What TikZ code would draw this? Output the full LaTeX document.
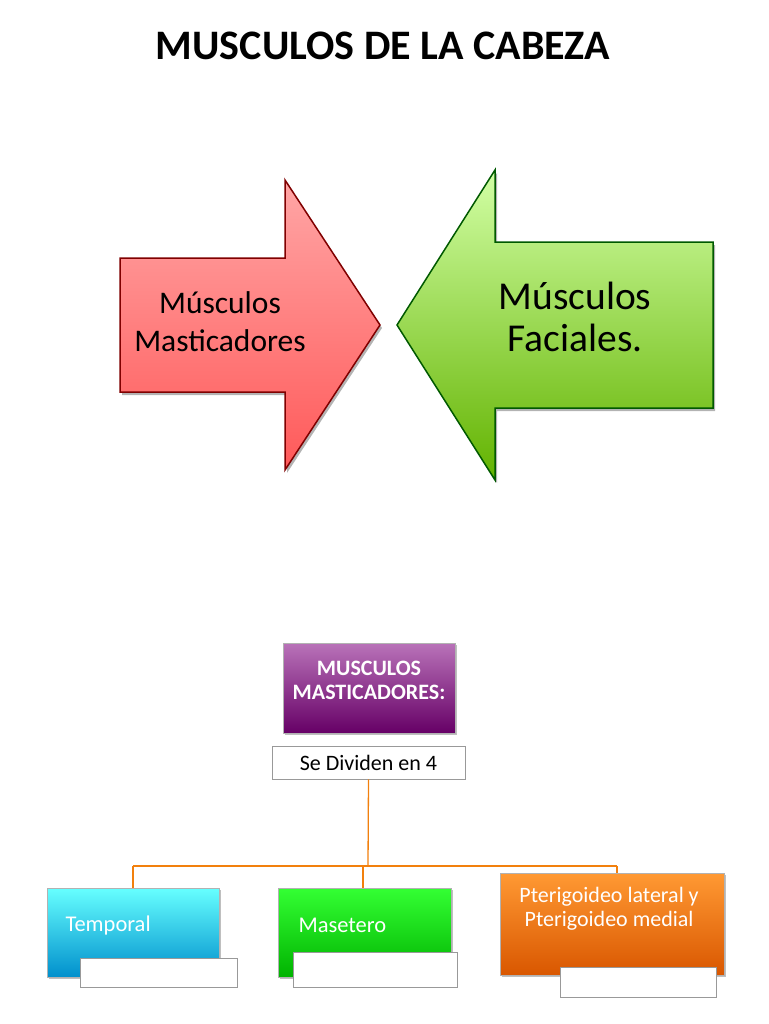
\documentclass[tikz,border=0pt]{standalone}
\usepackage{fontspec}
\setmainfont{Carlito}
\usetikzlibrary{shadows}
\begin{document}
\begin{tikzpicture}[x=1pt,y=-1pt,
  arr/.style={line width=1.5pt,line join=miter,drop shadow={shadow xshift=2pt,shadow yshift=-3pt,opacity=.6}},
  card/.style={draw=white!70!black,line width=0.8pt,drop shadow={shadow xshift=2pt,shadow yshift=-2pt,opacity=.5}},
  sub/.style={draw=black!40,fill=white,line width=0.6pt},
  con/.style={draw=orange!80!brown,line width=1.3pt}]
\useasboundingbox (0,0) rectangle (768,1024);
\node (title) at (383,46) {\fontsize{42}{48}\selectfont\bfseries MUSCULOS DE LA CABEZA};
\draw[arr,draw=red!50!black,top color=red!35!white,bottom color=red!65!white]
 (120,258) -- (285,258) -- (285,180) -- (380,325) -- (285,470) -- (285,392) -- (120,392) -- cycle;
\node (mm) at (220,325) {\fontsize{31.5}{38}\selectfont\begin{tabular}{c}Músculos\\Masticadores\end{tabular}};
\draw[arr,draw=green!35!black,top color=green!50!yellow!35!white,bottom color=green!45!yellow!70!black]
 (713,242) -- (495,242) -- (495,170) -- (397,325) -- (495,480) -- (495,408) -- (713,408) -- cycle;
\node (mf) at (575,322) {\fontsize{39.5}{42}\selectfont\begin{tabular}{c}Músculos\\Faciales.\end{tabular}};
\node[card,top color=violet!55!white,bottom color=violet!80!black,minimum width=172,minimum height=90] (root) at (369,688) {};
\node[white,font=\bfseries\fontsize{22}{24}\selectfont,align=center] at (369,680) {MUSCULOS\\MASTICADORES:};
\node[sub,minimum width=193,minimum height=33] (div) at (368.5,762.5) {\fontsize{22}{24}\selectfont Se Dividen en 4};
\coordinate (j) at (368,866);
\coordinate (l) at (133,866);
\coordinate (r) at (617,866);
\coordinate (m) at (363,866);
\node[card,top color=cyan!60!white,bottom color=cyan!70!blue!80!black,minimum width=172,minimum height=89,anchor=north west] (t) at (47,888) {};
\node[white,font=\fontsize{22.5}{26}\selectfont,anchor=west] at (62,925) {Temporal};
\node[card,top color=green!80!white,bottom color=green!70!black,minimum width=173,minimum height=89,anchor=north west] (ms) at (278,888) {};
\node[white,font=\fontsize{22.5}{26}\selectfont,anchor=west] at (295,925) {Masetero};
\node[card,top color=orange!80!white,bottom color=orange!80!red!85!black,minimum width=224,minimum height=102,anchor=north west] (p) at (500,873) {};
\node[white,font=\fontsize{22}{24}\selectfont,align=center] at (609,909) {Pterigoideo lateral y\\Pterigoideo medial};
\draw[con] (div.south) -- (j);
\draw[con] (l) -- (r);
\draw[con] (l) -- (t.north -| l);
\draw[con] (m) -- (ms.north -| m);
\draw[con] (r) -- (p.north -| r);
\node[sub,minimum width=157,minimum height=29,anchor=north west] (ts) at (80,958) {};
\node[sub,minimum width=164,minimum height=35,anchor=north west] (mss) at (293,952) {};
\node[sub,minimum width=156,minimum height=30,anchor=north west] (ps) at (560,967) {};
\end{tikzpicture}
\end{document}
